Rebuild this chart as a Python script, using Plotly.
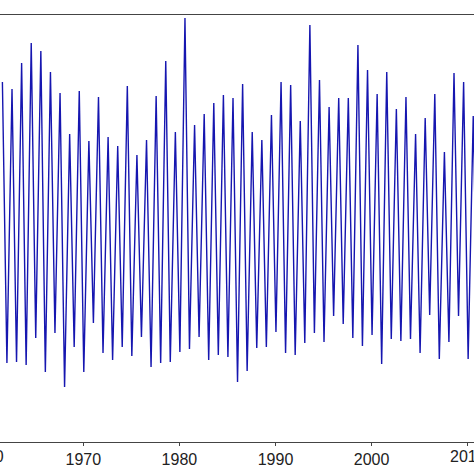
import plotly.graph_objects as go

# Years of the annual cycle (trough near January, peak near late July)
years = list(range(1962, 2011))

# Annual maxima (arbitrary units)
peak_vals = [35.3, 37.9, 39.9, 39.1, 37.0, 34.9, 30.8, 35.1, 30.1, 34.5,
             30.5, 29.6, 35.6, 28.7, 30.2, 34.6, 38.1, 31.0, 42.4, 31.7,
             32.8, 33.9, 34.7, 34.4, 35.8, 31.0, 30.2, 32.7, 36.0, 35.7,
             32.1, 41.7, 36.2, 33.5, 34.4, 34.4, 39.7, 37.2, 34.8, 37.0,
             33.3, 34.5, 30.8, 32.4, 34.8, 29.0, 36.9, 36.0, 32.6]

# Annual minima (arbitrary units)
trough_vals = [7.9, 8.0, 7.7, 10.4, 7.0, 10.9, 5.5, 9.5, 7.0, 11.9,
               8.9, 8.2, 9.5, 8.6, 10.5, 7.5, 7.9, 8.0, 9.0, 9.3,
               10.5, 8.2, 8.7, 8.5, 6.0, 7.1, 9.4, 9.5, 11.0, 8.9,
               8.7, 9.9, 10.9, 10.0, 12.6, 11.8, 10.4, 9.6, 10.7, 7.8,
               10.3, 10.1, 10.3, 8.9, 12.7, 8.3, 10.0, 12.6, 8.3]

# values partly outside the visible window
pre_peak = ("1961", 36.0)
post_trough = ("2011", 9.0)

t, v = [], []
t.append(int(pre_peak[0]) + 0.58)
v.append(pre_peak[1])
for y, lo, hi in zip(years, trough_vals, peak_vals):
    t.append(y + 0.05)
    v.append(lo)
    t.append(y + 0.58)
    v.append(hi)
t.append(int(post_trough[0]) + 0.05)
v.append(post_trough[1])

tick_years = [1960, 1970, 1980, 1990, 2000, 2010]
x_range = [1961.33, 2010.66]

fig = go.Figure()
fig.add_trace(go.Scatter(x=t, y=v, mode="lines",
                         line=dict(color="#1616b0", width=1.4),
                         showlegend=False, hoverinfo="skip"))

label_font = dict(family="Liberation Sans, Arial, sans-serif", size=16, color="#222")

fig.update_layout(
    width=474, height=474,
    margin=dict(l=0, r=0, t=15, b=32, autoexpand=False),
    paper_bgcolor="white", plot_bgcolor="white",
    font=label_font,
)
fig.update_xaxes(range=x_range, tickvals=tick_years,
                 ticktext=[str(y) for y in tick_years],
                 showline=True, linecolor="#444", linewidth=1.3, mirror=True,
                 ticks="outside", ticklen=3, tickcolor="#444",
                 showgrid=False, zeroline=False, automargin=False)
fig.update_yaxes(range=[0, 42.7], visible=False, showgrid=False, zeroline=False)

# edge tick labels that the axis itself drops (partly cut off by the edges)
fig.add_annotation(x=0, y=0, xref="paper", yref="paper",
                   xanchor="right", yanchor="top", xshift=6, yshift=-4,
                   text=str(tick_years[0]), showarrow=False, font=label_font)
span = x_range[1] - x_range[0]
fig.add_annotation(x=(tick_years[-1] - x_range[0]) / span, y=0, xref="paper", yref="paper",
                   xanchor="center", yanchor="top", yshift=-4,
                   text=str(tick_years[-1]), showarrow=False, font=label_font)

fig.write_html("out.html", config={"displayModeBar": False},
               post_script="document.body.style.margin='0';document.body.style.overflow='hidden';")
